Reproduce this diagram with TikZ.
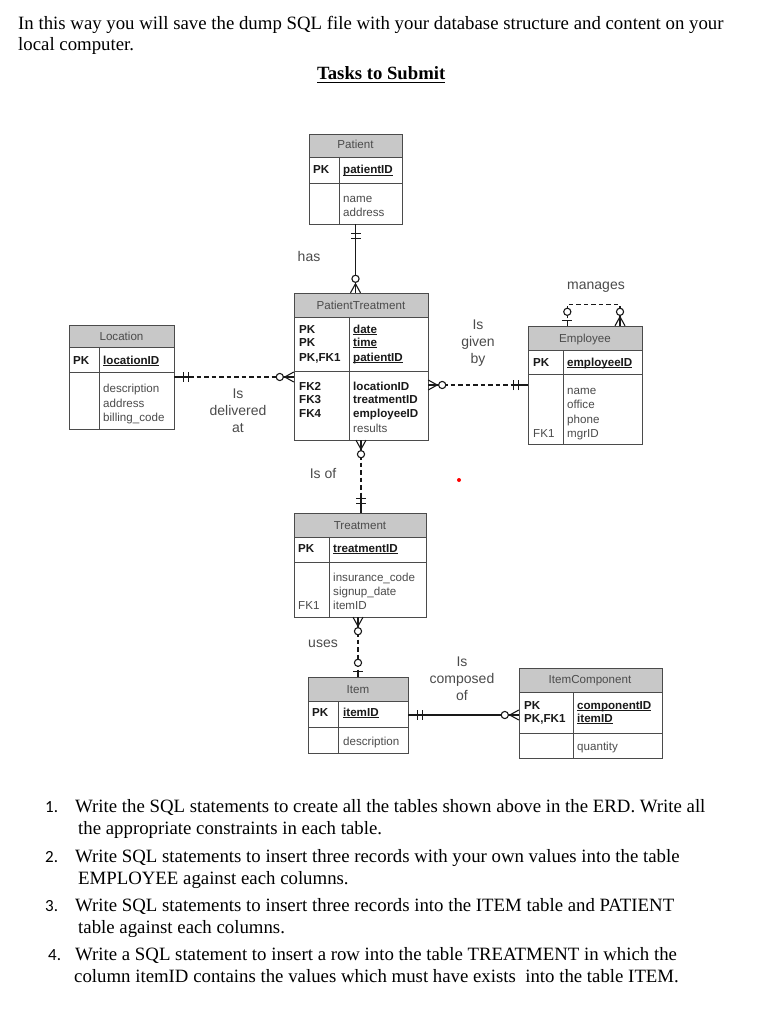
\documentclass[tikz,border=0pt]{standalone}
\usepackage{fontspec}
\setmainfont{Liberation Serif}
\newfontfamily\arialf{Liberation Sans}
\newfontfamily\calibf{Carlito}
\usetikzlibrary{fit,calc}
\definecolor{hdrgray}{RGB}{200,200,200}
\definecolor{linegray}{RGB}{75,75,75}
\definecolor{txtgray}{RGB}{75,75,75}
\definecolor{ink}{RGB}{25,25,25}
\newcommand\ulx[1]{\setbox0=\hbox{#1}\rlap{\vrule height -1.4pt depth 2.3pt width \wd0}\box0}
\newcommand\ulT[1]{\setbox0=\hbox{#1}\rlap{\vrule height -1.8pt depth 3.4pt width \wd0}\box0}
\tikzset{
  tbl/.style={draw=linegray, line width=0.9pt},
  hdr/.style={fill=hdrgray},
  conn/.style={draw=ink, line width=1.1pt},
  dconn/.style={conn, dash pattern=on 4.5pt off 3pt},
  mk/.style={draw=ink, line width=1.1pt},
  tt/.style={anchor=base west, inner sep=0pt, font=\arialf\fontsize{11.6}{14}\selectfont, text=txtgray},
  tb/.style={anchor=base west, inner sep=0pt, font=\arialf\bfseries\fontsize{11.6}{14}\selectfont, text=ink},
  th/.style={anchor=base, inner sep=0pt, font=\arialf\fontsize{11.6}{14}\selectfont, text=txtgray},
  rel/.style={align=center, inner sep=0pt, font=\arialf\fontsize{14}{17}\selectfont, text=txtgray},
  body/.style={anchor=base west, inner sep=0pt, font=\fontsize{18.8}{21}\selectfont},
  num/.style={anchor=base west, inner sep=0pt, font=\calibf\fontsize{17}{20}\selectfont},
  zmany/.pic={
    \draw[mk] (0,-5) -- (9,0) -- (0,5);
    \draw[mk] (0,0) -- (10.5,0);
    \draw[mk,fill=white] (14,0) circle (3.6pt);
  },
  oneone/.pic={
    \draw[mk] (0,0) -- (17,0);
    \draw[mk] (9,-5) -- (9,5);
    \draw[mk] (14,-5) -- (14,5);
  },
  zone/.pic={
    \draw[mk] (0,0) -- (6,0);
    \draw[mk] (5,-5) -- (5,5);
    \draw[mk,fill=white] (14,0) circle (3.6pt);
  }
}
% name, left, top, right, header bottom, pk bottom, bottom, divider
\newcommand\erdbox[8]{%
  \fill[hdr] (#2,#3) rectangle (#4,#5);
  \draw[tbl] (#2,#3) rectangle (#4,#7);
  \draw[tbl] (#2,#5) -- (#4,#5);
  \draw[tbl] (#2,#6) -- (#4,#6);
  \draw[tbl] (#8,#5) -- (#8,#7);
  \node[inner sep=0pt, fit={(#2,#3) (#4,#7)}] (#1) {};
}
\begin{document}
\begin{tikzpicture}[x=1pt,y=-1pt]
\fill[white] (0,0) rectangle (759,1011);
\useasboundingbox (0,0) rectangle (759,1011);

% ---------- text above ----------
\node[body] (p1) at (18,29.3) {In this way you will save the dump SQL file with your database structure and content on your};
\node[body] (p2) at (18,51) {local computer.};
\node[anchor=base, inner sep=0pt, font=\bfseries\fontsize{18.7}{21}\selectfont] (title) at (381.2,80) {\ulT{Tasks to Submit}};

% ---------- tables ----------
\erdbox{pat}{309}{134}{402}{157}{183}{224}{339}
\erdbox{pt}{294}{293}{428}{317}{371}{440}{349}
\erdbox{loc}{69}{325}{174}{347}{372}{429}{99}
\erdbox{emp}{528}{326}{642}{350}{374}{444}{563}
\erdbox{trt}{294}{513}{426}{537}{562}{617}{329}
\erdbox{item}{308}{677}{408}{701}{727}{753}{338}
\erdbox{ic}{519}{668}{662}{692}{733}{758}{573}

% Patient
\node[th] (patH) at (355.5,149) {Patient};
\node[tb] (patK) at (313,174) {PK};
\node[tb] (patA) at (343,174) {\ulx{patientID}};
\node[tt] (patB) at (343,202) {name};
\node[tt] (patC) at (343,216) {address};

% PatientTreatment
\node[th] (ptH) at (361,309) {PatientTreatment};
\node[tb] (ptK1) at (299,333) {PK};
\node[tb] (ptK2) at (299,346) {PK};
\node[tb] (ptK3) at (299,361) {PK,FK1};
\node[tb] (ptA1) at (353,333) {\ulx{date}};
\node[tb] (ptA2) at (353,346) {\ulx{time}};
\node[tb] (ptA3) at (353,361) {\ulx{patientID}};
\node[tb] (ptF2) at (299,390) {FK2};
\node[tb] (ptF3) at (299,403) {FK3};
\node[tb] (ptF4) at (299,417) {FK4};
\node[tb] (ptB1) at (353,390) {locationID};
\node[tb] (ptB2) at (353,403) {treatmentID};
\node[tb] (ptB3) at (353,417) {employeeID};
\node[tt] (ptB4) at (353,432) {results};

% Location
\node[th] (locH) at (121.5,340) {Location};
\node[tb] (locK) at (73,364) {PK};
\node[tb] (locA) at (103,364) {\ulx{locationID}};
\node[tt] (locB) at (103,392) {description};
\node[tt] (locC) at (103,407) {address};
\node[tt] (locD) at (103,421) {billing\_code};

% Employee
\node[th] (empH) at (585,342) {Employee};
\node[tb] (empK) at (533,366) {PK};
\node[tb] (empA) at (567,366) {\ulx{employeeID}};
\node[tt] (empB) at (567,394) {name};
\node[tt] (empC) at (567,408) {office};
\node[tt] (empD) at (567,423) {phone};
\node[tt] (empE) at (567,437) {mgrID};
\node[tt] (empF) at (533,437) {FK1};

% Treatment
\node[th] (trtH) at (360,529) {Treatment};
\node[tb] (trtK) at (298,552) {PK};
\node[tb] (trtA) at (333,552) {\ulx{treatmentID}};
\node[tt] (trtB) at (333,581) {insurance\_code};
\node[tt] (trtC) at (333,595) {signup\_date};
\node[tt] (trtD) at (333,609) {itemID};
\node[tt] (trtF) at (298,609) {FK1};

% Item
\node[th] (itemH) at (358,693) {Item};
\node[tb] (itemK) at (312,716) {PK};
\node[tb] (itemA) at (343,716) {\ulx{itemID}};
\node[tt] (itemB) at (343,745) {description};

% ItemComponent
\node[th] (icH) at (590,683) {ItemComponent};
\node[tb] (icK1) at (524,709) {PK};
\node[tb] (icK2) at (524,722) {PK,FK1};
\node[tb] (icA1) at (577,709) {\ulx{componentID}};
\node[tb] (icA2) at (577,722) {\ulx{itemID}};
\node[tt] (icB) at (577,750) {quantity};

% ---------- relationship labels ----------
\node[rel] (rHas) at (309,256) {has};
\node[rel] (rDel) at (238,411) {Is\\delivered\\at};
\node[rel] (rGiv) at (478,343) {Is\\given\\by};
\node[rel] (rMan) at (596,287) {manages};
\node[rel] (rOf) at (323,473) {Is of};
\node[rel] (rUse) at (323,644) {uses};
\node[rel] (rCmp) at (462,679) {Is\\composed\\of};

% ---------- connectors ----------
% has
\draw[conn] (pat.south) -- (pat.south |- pt.north);
\pic[rotate=-90] at (pat.south) {oneone};
\pic[rotate=90] at (pat.south |- pt.north) {zmany};
% is delivered at
\draw[dconn] (loc.east) -- (loc.east -| pt.west);
\pic at (loc.east) {oneone};
\pic[rotate=180] at (loc.east -| pt.west) {zmany};
% is given by
\draw[dconn] (pt.east |- emp.west) -- (emp.west);
\pic at (pt.east |- emp.west) {zmany};
\pic[rotate=180] at (emp.west) {oneone};
% manages
\draw[dconn] ([xshift=-17.7pt]emp.north) -- ++(0,-21) -| ([xshift=35pt]emp.north);
\pic[rotate=90] at ([xshift=-17.7pt]emp.north) {zone};
\pic[rotate=90] at ([xshift=35pt]emp.north) {zmany};
% is of
\draw[dconn] (pt.south) -- (pt.south |- trt.north);
\pic[rotate=-90] at (pt.south) {zmany};
\pic[rotate=90] at (pt.south |- trt.north) {oneone};
% uses
\draw[dconn] (item.north |- trt.south) -- (item.north);
\pic[rotate=-90] at (item.north |- trt.south) {zmany};
\pic[rotate=90] at (item.north) {zone};
% is composed of
\draw[conn] (item.east) -- (item.east -| ic.west);
\pic at (item.east) {oneone};
\pic[rotate=180] at (item.east -| ic.west) {zmany};

% stray red dot
\fill[red] (459,480) circle (2pt);

% ---------- tasks ----------
\node[num] (n1) at (45,812.7) {1.};
\node[body] (i1a) at (75,812.7) {Write the SQL statements to create all the tables shown above in the ERD. Write all};
\node[body] (i1b) at (78,834) {the appropriate constraints in each table.};
\node[num] (n2) at (45,862) {2.};
\node[body] (i2a) at (75,862) {Write SQL statements to insert three records with your own values into the table};
\node[body] (i2b) at (78,884) {EMPLOYEE against each columns.};
\node[num] (n3) at (45,911.5) {3.};
\node[body] (i3a) at (75,911.5) {Write SQL statements to insert three records into the ITEM table and PATIENT};
\node[body] (i3b) at (78,933) {table against each columns.};
\node[num] (n4) at (48,960.7) {4.};
\node[body] (i4a) at (75,960.7) {Write a SQL statement to insert a row into the table TREATMENT in which the};
\node[body] (i4b) at (74,982) {column itemID contains the values which must have exists\ \ into the table ITEM.};
\end{tikzpicture}
\end{document}
